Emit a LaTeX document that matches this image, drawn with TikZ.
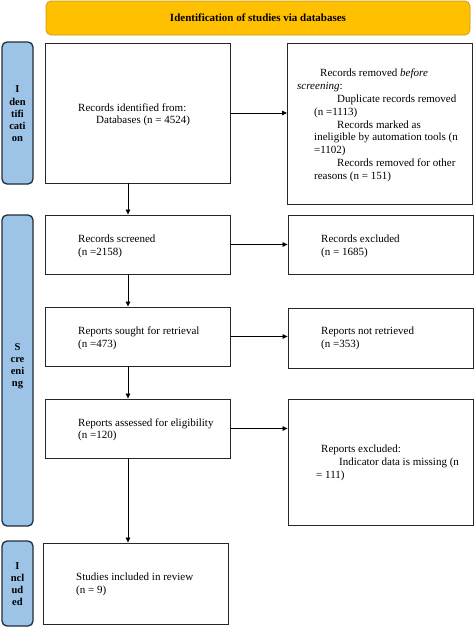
\documentclass[tikz,border=0pt]{standalone}
\usepackage{fontspec}
\setmainfont{Liberation Serif}
\usetikzlibrary{arrows.meta}
\definecolor{bannerfill}{HTML}{FFC000}
\definecolor{bannerdraw}{HTML}{C99A10}
\definecolor{sidefill}{HTML}{9DC3E6}
\definecolor{sidedraw}{HTML}{1F2D3D}
\definecolor{boxdraw}{HTML}{262626}
\tikzset{
  flowbox/.style={draw=boxdraw, line width=0.9pt, rectangle, inner sep=0pt, fill=white},
  banner/.style={draw=bannerdraw, line width=0.7pt, fill=bannerfill, rounded corners=5pt, inner sep=0pt, font=\fontsize{11}{13}\selectfont\bfseries},
  sidebox/.style={draw=sidedraw, line width=1.3pt, fill=sidefill, rounded corners=5pt, inner sep=0pt},
  sidetext/.style={align=center, inner sep=0pt, font=\fontsize{10.5}{12.2}\selectfont\bfseries},
  btext/.style={anchor=base west, inner sep=0pt, font=\fontsize{11}{13}\selectfont},
  arr/.style={draw=black, line width=0.7pt, -{Triangle[length=5pt,width=4.5pt]}}
}
\newcommand{\mytext}[4]{\node[btext] (#1) at (#2,#3+3.8) {#4};}
\begin{document}
\begin{tikzpicture}[x=1pt,y=-1pt]
\useasboundingbox (0,0) rectangle (474,627);
% banner
\node[banner, minimum width=424pt, minimum height=34pt] (banner) at (258,18) {Identification of studies via databases};
% side labels
\node[sidebox, minimum width=31pt, minimum height=142pt] (sideid) at (17.5,113) {};
\node[sidetext] (sideidt) at (17.5,114) {I\\den\\tifi\\cati\\on};
\node[sidebox, minimum width=31pt, minimum height=311pt] (sidescr) at (17.5,370.5) {};
\node[sidetext] (sidescrt) at (17.5,366) {S\\cre\\eni\\ng};
\node[sidebox, minimum width=31pt, minimum height=85pt] (sideinc) at (17.5,583.5) {};
\node[sidetext] (sideinct) at (17.5,584) {I\\ncl\\ud\\ed};
% left boxes
\node[flowbox, minimum width=185pt, minimum height=140pt] (b1) at (137.5,113) {};
\node[flowbox, minimum width=185pt, minimum height=59pt] (b2) at (137.5,244.5) {};
\node[flowbox, minimum width=185pt, minimum height=59pt] (b3) at (137.5,336.5) {};
\node[flowbox, minimum width=185pt, minimum height=59pt] (b4) at (137.5,428.5) {};
\node[flowbox, minimum width=185pt, minimum height=81pt] (b5) at (135.5,583.5) {};
% right boxes
\node[flowbox, minimum width=185pt, minimum height=161pt] (r1) at (380,123.5) {};
\node[flowbox, minimum width=185pt, minimum height=59pt] (r2) at (380.5,244.5) {};
\node[flowbox, minimum width=185pt, minimum height=60pt] (r3) at (380.5,338) {};
\node[flowbox, minimum width=185pt, minimum height=126pt] (r4) at (380.5,462) {};
% texts
\mytext{t1a}{78}{108}{Records identified from:}
\mytext{t1b}{96}{120}{Databases (n = 4524)}
\mytext{r1a}{320}{73}{Records removed \textit{before}}
\mytext{r1b}{297}{86}{\textit{screening}:}
\mytext{r1c}{337}{99}{Duplicate records removed}
\mytext{r1d}{314}{112}{(n =1113)}
\mytext{r1e}{337}{125}{Records marked as}
\mytext{r1f}{314}{137}{ineligible by automation tools (n}
\mytext{r1g}{314}{150}{=1102)}
\mytext{r1h}{337}{163}{Records removed for other}
\mytext{r1i}{314}{176}{reasons (n = 151)}
\mytext{t2a}{78}{239}{Records screened}
\mytext{t2b}{78}{252}{(n =2158)}
\mytext{r2a}{321}{239}{Records excluded}
\mytext{r2b}{321}{252}{(n = 1685)}
\mytext{t3a}{78}{331}{Reports sought for retrieval}
\mytext{t3b}{78}{344}{(n =473)}
\mytext{r3a}{321}{331}{Reports not retrieved}
\mytext{r3b}{321}{344}{(n =353)}
\mytext{t4a}{78}{423}{Reports assessed for eligibility}
\mytext{t4b}{78}{435}{(n =120)}
\mytext{r4a}{321}{449}{Reports excluded:}
\mytext{r4b}{339}{462}{Indicator data is missing (n}
\mytext{r4c}{316}{475}{= 111)}
\mytext{t5a}{76}{577}{Studies included in review}
\mytext{t5b}{76}{590}{(n = 9)}
% arrows
\coordinate (vx) at (128,0);
\draw[arr] (b1.south -| vx) -- (b2.north -| vx);
\draw[arr] (b2.south -| vx) -- (b3.north -| vx);
\draw[arr] (b3.south -| vx) -- (b4.north -| vx);
\draw[arr] (b4.south -| vx) -- (b5.north -| vx);
\draw[arr] ([xshift=1pt]b1.east) -- (b1.east -| r1.west);
\draw[arr] ([xshift=1pt]b2.east) -- (b2.east -| r2.west);
\draw[arr] ([xshift=1pt]b3.east) -- (b3.east -| r3.west);
\draw[arr] ([xshift=1pt]b4.east) -- (b4.east -| r4.west);
\end{tikzpicture}
\end{document}
